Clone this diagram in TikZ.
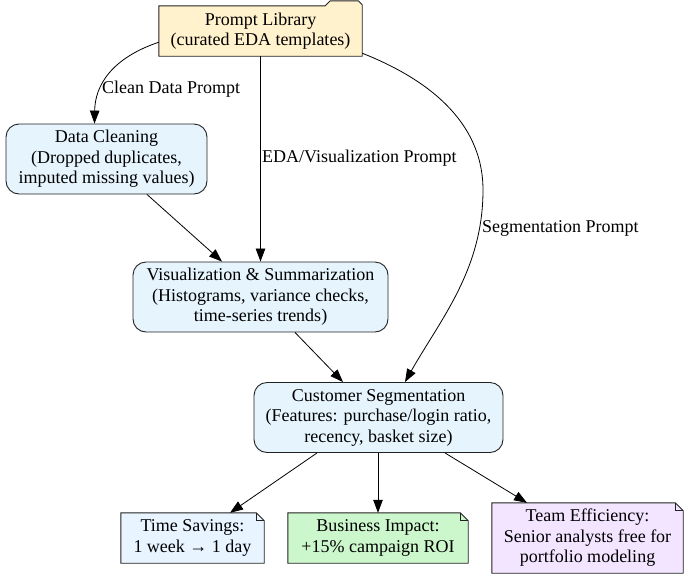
\documentclass[tikz,border=0pt]{standalone}
\usepackage{fontspec}
\setmainfont{Liberation Serif}
\usetikzlibrary{arrows.meta}
\definecolor{bluefill}{HTML}{E6F4FE}
\definecolor{yellowfill}{HTML}{FFF2CC}
\definecolor{greenfill}{HTML}{CCF7CC}
\definecolor{lavfill}{HTML}{F3E5FF}
\definecolor{notebluefill}{HTML}{E8F4FF}
\definecolor{edgegray}{HTML}{222222}
\tikzset{
  txt/.style={font=\fontsize{18}{20.5}\selectfont, align=center, inner sep=0pt},
  box/.style={txt, draw=edgegray, line width=0.9pt, rounded corners=13pt, fill=bluefill},
  ghost/.style={txt, draw=none},
  outline/.style={draw=edgegray, line width=0.9pt},
  elabel/.style={font=\fontsize{18}{20.5}\selectfont, anchor=west, inner sep=0pt},
  arr/.style={-{Triangle[length=13pt,width=9.5pt]}, line width=0.8pt},
}
\begin{document}
\begin{tikzpicture}[x=1pt,y=-1pt]
\useasboundingbox (0,0) rectangle (688,579);
% Prompt Library folder
\node[ghost, minimum width=203pt, minimum height=50pt] (pl) at (260.5,31) {};
\path[outline, fill=yellowfill] (pl.south west) -- (pl.north west) -- ([xshift=-37pt]pl.north east) -- ([xshift=-32pt,yshift=5pt]pl.north east) -- ([xshift=-4pt,yshift=5pt]pl.north east) -- ([yshift=1pt]pl.north east) -- (pl.south east) -- cycle;
\node[ghost] at (pl) {Prompt Library\\(curated EDA templates)};
% Process nodes
\node[box, minimum width=201pt, minimum height=70pt] (dc) at (106.5,159) {Data Cleaning\\(Dropped duplicates,\\imputed missing values)};
\node[box, minimum width=255pt, minimum height=70pt] (vs) at (260.5,297) {Visualization \& Summarization\\(Histograms, variance checks,\\time-series trends)};
\node[box, minimum width=249pt, minimum height=70pt] (cs) at (378.5,417.5) {Customer Segmentation\\(Features: purchase/login ratio,\\recency, basket size)};
% Notes
\newcommand{\notepath}[2]{\path[outline, fill=#2] (#1.south west) -- (#1.north west) -- ([xshift=-8pt]#1.north east) -- ([yshift=-8pt]#1.north east) -- (#1.south east) -- cycle;
  \draw[edgegray, line width=0.9pt] ([xshift=-8pt]#1.north east) -- ([xshift=-8pt,yshift=-8pt]#1.north east) -- ([yshift=-8pt]#1.north east);}
\node[ghost, minimum width=143pt, minimum height=50pt] (ts) at (192.5,538) {};
\notepath{ts}{notebluefill}
\node[ghost] at (ts) {Time Savings:\\1 week → 1 day};
\node[ghost, minimum width=180pt, minimum height=50pt] (bi) at (378,538) {};
\notepath{bi}{greenfill}
\node[ghost] at (bi) {Business Impact:\\+15\% campaign ROI};
\node[ghost, minimum width=191pt, minimum height=70pt] (te) at (587.5,538) {};
\notepath{te}{lavfill}
\node[ghost] at (te) {Team Efficiency:\\Senior analysts free for\\portfolio modeling};
% Edges
\draw[arr] ([yshift=14pt]pl.south west) .. controls (112,58) and (95,85) .. ([xshift=-12pt]dc.north);
\node[elabel] (l1) at (102,89) {Clean Data Prompt};
\draw[arr] (pl.south) -- (vs.north);
\node[elabel] (l2) at (262,158) {EDA/Visualization Prompt};
\draw[arr] ([yshift=3pt]pl.south east) .. controls (425,78) and (483,120) .. (483,190) .. controls (483,270) and (440,320) .. ([xshift=26.5pt]cs.north);
\node[elabel] (l3) at (482,228) {Segmentation Prompt};
\draw[arr] ([xshift=40.5pt]dc.south) -- ([xshift=-38.5pt]vs.north);
\draw[arr] ([xshift=34.5pt]vs.south) -- ([xshift=-35.5pt]cs.north);
\draw[arr] ([xshift=-61.5pt]cs.south) -- ([xshift=37.5pt]ts.north);
\draw[arr] (cs.south -| bi.north) -- (bi.north);
\draw[arr] ([xshift=66.5pt]cs.south) -- ([xshift=-60.5pt]te.north);
\end{tikzpicture}
\end{document}
